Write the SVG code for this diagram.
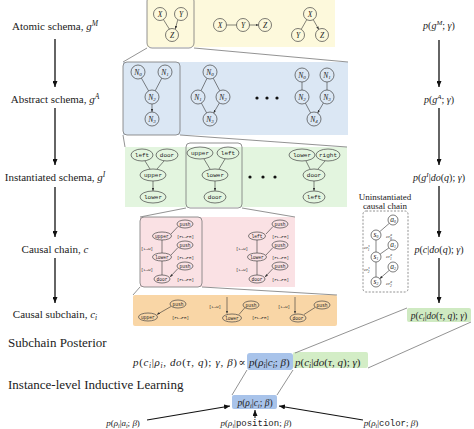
<svg xmlns="http://www.w3.org/2000/svg" width="474" height="429" viewBox="0 0 474 429">
<defs>
<marker id="ah" markerUnits="userSpaceOnUse" markerWidth="6" markerHeight="5" refX="6" refY="2.5" orient="auto"><path d="M0,0 L6,2.5 L0,5 z" fill="#111"/></marker>
<marker id="sa" markerUnits="userSpaceOnUse" markerWidth="3" markerHeight="2.4" refX="3" refY="1.2" orient="auto"><path d="M0,0 L3,1.2 L0,2.4 z" fill="#333"/></marker>
<style>
text{font-family:"Liberation Serif","DejaVu Serif",serif;fill:#222}
.i{font-style:italic}
.lbl{font-size:11px}
.rt{font-size:10px}
.ttl{font-size:13px}
.tt{font-family:"Liberation Mono","DejaVu Sans Mono",monospace}
.cn{fill:none;stroke:#444;stroke-width:0.7}
.nl{font-size:7.5px;font-style:italic;text-anchor:middle}
.el{font-size:6px;text-anchor:middle}
.pl{font-size:4.6px;text-anchor:middle}
.sl{font-size:4px}
.e{stroke:#333;stroke-width:0.6;fill:none;marker-end:url(#sa)}
.ar{stroke:#111;stroke-width:1.3;fill:none;marker-end:url(#ah)}
.zl{stroke:#777;stroke-width:0.8;fill:none}
.cell{fill:none;stroke:#777;stroke-width:0.8}
</style>
</defs>

<!-- panel backgrounds -->
<rect x="147" y="-2" width="188" height="49" fill="#fdf9dc"/>
<rect class="cell" x="147" y="-4" width="47" height="52" rx="5"/>
<rect x="123" y="62" width="225" height="73" fill="#dbe7f4"/>
<rect class="cell" x="123" y="62" width="57" height="73" rx="4"/>
<rect x="125" y="147" width="222" height="60" fill="#e3f5df"/>
<rect class="cell" x="186" y="143" width="56" height="65" rx="4"/>
<rect x="140" y="217" width="155" height="70" fill="#fae1e4"/>
<rect class="cell" x="140" y="217" width="62" height="70" rx="4"/>
<rect x="133" y="295" width="204" height="31" fill="#f9d6a6" rx="2"/>
<rect x="363" y="211" width="45" height="81" rx="3" fill="none" stroke="#777" stroke-width="0.8" stroke-dasharray="2,1.5"/>
<rect x="407" y="308" width="64" height="14" fill="#cfeac2" rx="2"/>
<rect x="247" y="353" width="46" height="17" fill="#a8c3ea" rx="3"/>
<rect x="293" y="352" width="75" height="16" fill="#d3edc6" rx="2"/>
<rect x="232" y="395" width="45" height="14" fill="#a8c3ea" rx="2"/>

<!-- connectors -->
<g id="connectors">
<path class="ar" d="M55,39 V87"/>
<path class="ar" d="M55,108 V165"/>
<path class="ar" d="M55,187 V237"/>
<path class="ar" d="M55,258 V303"/>
<path class="ar" d="M439,40 V87"/>
<path class="ar" d="M439,108 V165"/>
<path class="ar" d="M439,186 V237"/>
<path class="ar" d="M439,258 V303"/>
<path class="zl" d="M147,48 L123,62 M194,48 L348,62"/>
<path class="zl" d="M123,135 L125,147 M180,135 L347,147"/>
<path class="zl" d="M186,208 L140,217 M242,208 L295,217"/>
<path class="zl" d="M140,287 L133,295 M202,287 L337,295"/>
<path class="zl" d="M407,308 L295,353 M471,322 L368,368"/>
<path class="zl" d="M247,370 L232,395 M293,370 L277,395"/>
<path stroke="#111" stroke-width="1.1" fill="none" marker-end="url(#ah)" d="M147,420 L230,406"/>
<path stroke="#111" stroke-width="1.1" fill="none" marker-end="url(#ah)" d="M255,418 V410"/>
<path stroke="#111" stroke-width="1.1" fill="none" marker-end="url(#ah)" d="M363,420 L279,406"/>
<!-- atomic edges -->
<path class="e" d="M163.4,19.5 L169.6,29.5 M177.7,20.1 L175.3,28.9"/>
<path class="e" d="M226.5,25 L236.5,25 M249.5,25 L258.5,25"/>
<path class="e" d="M306.8,19.6 L301.2,29.4 M313.2,19.6 L318.8,29.4"/>
<!-- abstract edges -->
<path class="e" d="M141.4,78.1 L148.6,90.9 M161.8,78.2 L155.2,90.8 M152,104 L152,112"/>
<path class="e" d="M207,78.3 L201,90.7 M213.2,78.2 L219.8,90.8 M201.4,103.1 L206.6,112.9 M219.4,103 L213.6,113"/>
<path class="e" d="M302,82 L302,90 M327,82 L327,90 M305.4,103.1 L310.6,112.9 M323.4,103 L317.6,113"/>
<!-- instantiated edges -->
<path class="e" d="M145,161 L150,169 M164,161 L157,169 M153,181 L153,191"/>
<path class="e" d="M204,159 L210,169 M225,159 L219,169 M215,181 L215,191"/>
<path class="e" d="M306,161 L310,169 M325,161 L318,169 M314,181 L314,191"/>
<!-- causal chain edges -->
<path class="e" d="M178,226.5 L171,234 M162,240 L162,253 M178,247.5 L171,255 M162,261 L162,275 M178,268.5 L170,277"/>
<path class="e" d="M273,226.5 L266,234 M257,240 L257,253 M273,247.5 L266,255 M257,261 L257,275 M273,268.5 L265,277"/>
<!-- subchain edges -->
<path class="e" d="M171,306.5 L157,314.5"/>
<path class="e" d="M245,307.5 L239,314.5 M227,297 L227,313.5"/>
<path class="e" d="M315,307.5 L304,314.5 M295,297 L295,313.5"/>
<!-- uninstantiated edges -->
<path class="e" d="M389.3,223.3 L379.7,231.7 M376,240 L376,252 M388.9,247.9 L380.1,254.1 M376,262 L376,277 M389.3,270.3 L379.7,278.7"/>
</g>

<!-- left labels -->
<g id="left-labels" class="lbl">
<text class="lbl" x="55" y="30" text-anchor="middle">Atomic schema, <tspan class="i">g</tspan><tspan font-size="7.5" dy="-4" class="i">M</tspan></text>
<text class="lbl" x="55" y="103" text-anchor="middle">Abstract schema, <tspan class="i">g</tspan><tspan font-size="7.5" dy="-4" class="i">A</tspan></text>
<text class="lbl" x="55" y="181" text-anchor="middle">Instantiated schema, <tspan class="i">g</tspan><tspan font-size="7.5" dy="-4" class="i">I</tspan></text>
<text class="lbl" x="55" y="253" text-anchor="middle">Causal chain, <tspan class="i">c</tspan></text>
<text class="lbl" x="55" y="318" text-anchor="middle">Causal subchain, <tspan class="i">c</tspan><tspan font-size="7.5" dy="2" class="i">i</tspan></text>
<text class="ttl" x="8" y="347">Subchain Posterior</text>
<text class="ttl" x="8" y="389">Instance-level Inductive Learning</text>
</g>

<!-- right labels -->
<g id="right-labels">
<text class="rt" x="439" y="29" text-anchor="middle"><tspan class="i">p</tspan>(<tspan class="i">g</tspan><tspan font-size="7" dy="-4" class="i">M</tspan><tspan dy="4">;</tspan> <tspan class="i">γ</tspan>)</text>
<text class="rt" x="439" y="103" text-anchor="middle"><tspan class="i">p</tspan>(<tspan class="i">g</tspan><tspan font-size="7" dy="-4" class="i">A</tspan><tspan dy="4">;</tspan> <tspan class="i">γ</tspan>)</text>
<text class="rt" x="439" y="181" text-anchor="middle"><tspan class="i">p</tspan>(<tspan class="i">g</tspan><tspan font-size="7" dy="-4" class="i">I</tspan><tspan dy="4">|</tspan><tspan class="i">do</tspan>(<tspan class="i">q</tspan>); <tspan class="i">γ</tspan>)</text>
<text class="rt" x="439" y="253" text-anchor="middle"><tspan class="i">p</tspan>(<tspan class="i">c</tspan>|<tspan class="i">do</tspan>(<tspan class="i">q</tspan>); <tspan class="i">γ</tspan>)</text>
</g>
<g id="node-subchain-prob">
<text font-size="9.5" x="439" y="318.5" text-anchor="middle"><tspan class="i">p</tspan>(<tspan class="i">c</tspan><tspan font-size="6.5" dy="2" class="i">i</tspan><tspan dy="-2">|</tspan><tspan class="i">do</tspan>(<tspan class="i">τ</tspan>, <tspan class="i">q</tspan>); <tspan class="i">γ</tspan>)</text>
</g>
<g id="uninst-title">
<text font-size="9" x="385" y="200" text-anchor="middle">Uninstantiated</text>
<text font-size="9" x="385" y="209" text-anchor="middle">causal chain</text>
</g>

<!-- formula -->
<g id="formula">
<text font-size="11" x="133" y="366" textLength="104" lengthAdjust="spacing"><tspan class="i">p</tspan>(<tspan class="i">c</tspan><tspan font-size="7.5" dy="2" class="i">i</tspan><tspan dy="-2">|</tspan><tspan class="i">ρ</tspan><tspan font-size="7.5" dy="2" class="i">i</tspan><tspan dy="-2">, </tspan><tspan class="i">do</tspan>(<tspan class="i">τ</tspan>, <tspan class="i">q</tspan>); <tspan class="i">γ</tspan>, <tspan class="i">β</tspan>)</text>
<text font-size="11" x="242" y="366" text-anchor="middle">∝</text>
<text font-size="11" x="249" y="366"><tspan class="i">p</tspan>(<tspan class="i">ρ</tspan><tspan font-size="7.5" dy="2" class="i">i</tspan><tspan dy="-2">|</tspan><tspan class="i">c</tspan><tspan font-size="7.5" dy="2" class="i">i</tspan><tspan dy="-2">; </tspan><tspan class="i">β</tspan>)</text>
<text font-size="11" x="295" y="366"><tspan class="i">p</tspan>(<tspan class="i">c</tspan><tspan font-size="7.5" dy="2" class="i">i</tspan><tspan dy="-2">|</tspan><tspan class="i">do</tspan>(<tspan class="i">τ</tspan>, <tspan class="i">q</tspan>); <tspan class="i">γ</tspan>)</text>
</g>

<!-- instance-level -->
<g id="node-rho-c">
<text font-size="9.5" x="255" y="405.5" text-anchor="middle"><tspan class="i">p</tspan>(<tspan class="i">ρ</tspan><tspan font-size="6.5" dy="2" class="i">i</tspan><tspan dy="-2">|</tspan><tspan class="i">c</tspan><tspan font-size="6.5" dy="2" class="i">i</tspan><tspan dy="-2">; </tspan><tspan class="i">β</tspan>)</text>
</g>
<g id="node-rho-a">
<text font-size="9" x="123" y="426" text-anchor="middle"><tspan class="i">p</tspan>(<tspan class="i">ρ</tspan><tspan font-size="6" dy="2" class="i">i</tspan><tspan dy="-2">|</tspan><tspan class="i">a</tspan><tspan font-size="6" dy="2" class="i">i</tspan><tspan dy="-2">; </tspan><tspan class="i">β</tspan>)</text>
</g>
<g id="node-rho-position">
<text font-size="9" x="256" y="426" text-anchor="middle"><tspan class="i">p</tspan>(<tspan class="i">ρ</tspan><tspan font-size="6" dy="2" class="i">i</tspan><tspan dy="-2">|</tspan><tspan class="tt">position</tspan>; <tspan class="i">β</tspan>)</text>
</g>
<g id="node-rho-color">
<text font-size="9" x="391" y="426" text-anchor="middle"><tspan class="i">p</tspan>(<tspan class="i">ρ</tspan><tspan font-size="6" dy="2" class="i">i</tspan><tspan dy="-2">|</tspan><tspan class="tt">color</tspan>; <tspan class="i">β</tspan>)</text>
</g>

<!-- atomic nodes -->
<g id="atomic-1"><circle class="cn" cx="160" cy="14" r="6.5"/><text class="nl" x="160" y="16.7">X</text><circle class="cn" cx="181" cy="14" r="6.5"/><text class="nl" x="181" y="16.7">Y</text><circle class="cn" cx="172" cy="35" r="6.5"/><text class="nl" x="172" y="37.7">Z</text></g>
<g id="atomic-2"><circle class="cn" cx="220" cy="25" r="6.5"/><text class="nl" x="220" y="27.7">X</text><circle class="cn" cx="243" cy="25" r="6.5"/><text class="nl" x="243" y="27.7">Y</text><circle class="cn" cx="265" cy="25" r="6.5"/><text class="nl" x="265" y="27.7">Z</text></g>
<g id="atomic-3"><circle class="cn" cx="310" cy="14" r="6.5"/><text class="nl" x="310" y="16.7">X</text><circle class="cn" cx="298" cy="35" r="6.5"/><text class="nl" x="298" y="37.7">Y</text><circle class="cn" cx="322" cy="35" r="6.5"/><text class="nl" x="322" y="37.7">Z</text></g>

<!-- abstract nodes -->
<g id="abstract-1">
<circle class="cn" cx="138" cy="72" r="7"/><text class="nl" x="138" y="74.5">N<tspan font-size="5" dy="1.5">0</tspan></text>
<circle class="cn" cx="165" cy="72" r="7"/><text class="nl" x="165" y="74.5">N<tspan font-size="5" dy="1.5">1</tspan></text>
<circle class="cn" cx="152" cy="97" r="7"/><text class="nl" x="152" y="99.5">N<tspan font-size="5" dy="1.5">2</tspan></text>
<circle class="cn" cx="152" cy="119" r="7"/><text class="nl" x="152" y="121.5">N<tspan font-size="5" dy="1.5">3</tspan></text>
</g>
<g id="abstract-2">
<circle class="cn" cx="210" cy="72" r="7"/><text class="nl" x="210" y="74.5">N<tspan font-size="5" dy="1.5">0</tspan></text>
<circle class="cn" cx="198" cy="97" r="7"/><text class="nl" x="198" y="99.5">N<tspan font-size="5" dy="1.5">1</tspan></text>
<circle class="cn" cx="223" cy="97" r="7"/><text class="nl" x="223" y="99.5">N<tspan font-size="5" dy="1.5">2</tspan></text>
<circle class="cn" cx="210" cy="119" r="7"/><text class="nl" x="210" y="121.5">N<tspan font-size="5" dy="1.5">3</tspan></text>
</g>
<g id="abstract-dots"><circle cx="257" cy="98" r="1.6" fill="#111"/><circle cx="267" cy="98" r="1.6" fill="#111"/><circle cx="277" cy="98" r="1.6" fill="#111"/></g>
<g id="abstract-3">
<circle class="cn" cx="302" cy="75" r="7"/><text class="nl" x="302" y="77.5">N<tspan font-size="5" dy="1.5">0</tspan></text>
<circle class="cn" cx="327" cy="75" r="7"/><text class="nl" x="327" y="77.5">N<tspan font-size="5" dy="1.5">1</tspan></text>
<circle class="cn" cx="302" cy="97" r="7"/><text class="nl" x="302" y="99.5">N<tspan font-size="5" dy="1.5">2</tspan></text>
<circle class="cn" cx="327" cy="97" r="7"/><text class="nl" x="327" y="99.5">N<tspan font-size="5" dy="1.5">3</tspan></text>
<circle class="cn" cx="314" cy="119" r="7"/><text class="nl" x="314" y="121.5">N<tspan font-size="5" dy="1.5">4</tspan></text>
</g>

<!-- instantiated nodes -->
<g id="inst-1">
<ellipse class="cn" cx="142" cy="155" rx="11" ry="6"/><text class="tt el" x="142" y="157">left</text>
<ellipse class="cn" cx="167" cy="155" rx="11" ry="6"/><text class="tt el" x="167" y="157">door</text>
<ellipse class="cn" cx="153" cy="175" rx="13" ry="6"/><text class="tt el" x="153" y="177">upper</text>
<ellipse class="cn" cx="153" cy="197" rx="13" ry="6"/><text class="tt el" x="153" y="199">lower</text>
</g>
<g id="inst-2">
<ellipse class="cn" cx="200" cy="153" rx="13" ry="6"/><text class="tt el" x="200" y="155">upper</text>
<ellipse class="cn" cx="228" cy="153" rx="11" ry="6"/><text class="tt el" x="228" y="155">left</text>
<ellipse class="cn" cx="215" cy="175" rx="13" ry="6"/><text class="tt el" x="215" y="177">lower</text>
<ellipse class="cn" cx="215" cy="197" rx="11" ry="6"/><text class="tt el" x="215" y="199">door</text>
</g>
<g id="inst-dots"><circle cx="250" cy="177" r="1.6" fill="#111"/><circle cx="263" cy="177" r="1.6" fill="#111"/><circle cx="275" cy="177" r="1.6" fill="#111"/></g>
<g id="inst-3">
<ellipse class="cn" cx="302" cy="155" rx="13" ry="6"/><text class="tt el" x="302" y="157">lower</text>
<ellipse class="cn" cx="328" cy="155" rx="12" ry="6"/><text class="tt el" x="328" y="157">right</text>
<ellipse class="cn" cx="314" cy="175" rx="11" ry="6"/><text class="tt el" x="314" y="177">door</text>
<ellipse class="cn" cx="314" cy="197" rx="11" ry="6"/><text class="tt el" x="314" y="199">left</text>
</g>

<!-- causal chain nodes -->
<g id="chain-1">
<ellipse class="cn" cx="185" cy="224" rx="8" ry="4"/><text class="tt pl" x="185" y="225.6">push</text>
<ellipse class="cn" cx="162" cy="236" rx="9.5" ry="4"/><text class="tt pl" x="162" y="237.6">upper</text>
<text class="tt sl" x="177" y="237.5">[PL→PH]</text>
<text class="tt sl" x="147" y="250" text-anchor="middle">[L→U]</text>
<ellipse class="cn" cx="185" cy="245" rx="8" ry="4"/><text class="tt pl" x="185" y="246.6">push</text>
<ellipse class="cn" cx="162" cy="257" rx="9.5" ry="4"/><text class="tt pl" x="162" y="258.6">lower</text>
<text class="tt sl" x="177" y="258.5">[PL→PH]</text>
<text class="tt sl" x="147" y="271" text-anchor="middle">[L→U]</text>
<ellipse class="cn" cx="185" cy="266" rx="8" ry="4"/><text class="tt pl" x="185" y="267.6">push</text>
<ellipse class="cn" cx="162" cy="279" rx="8" ry="4"/><text class="tt pl" x="162" y="280.6">door</text>
<text class="tt sl" x="177" y="280.5">[PL→PH]</text>
</g>
<g id="chain-2">
<ellipse class="cn" cx="280" cy="224" rx="8" ry="4"/><text class="tt pl" x="280" y="225.6">push</text>
<ellipse class="cn" cx="257" cy="236" rx="8.5" ry="4"/><text class="tt pl" x="257" y="237.6">left</text>
<text class="tt sl" x="272" y="237.5">[PL→PH]</text>
<text class="tt sl" x="242" y="250" text-anchor="middle">[L→U]</text>
<ellipse class="cn" cx="280" cy="245" rx="8" ry="4"/><text class="tt pl" x="280" y="246.6">push</text>
<ellipse class="cn" cx="257" cy="257" rx="9.5" ry="4"/><text class="tt pl" x="257" y="258.6">lower</text>
<text class="tt sl" x="272" y="258.5">[PL→PH]</text>
<text class="tt sl" x="242" y="271" text-anchor="middle">[L→U]</text>
<ellipse class="cn" cx="280" cy="266" rx="8" ry="4"/><text class="tt pl" x="280" y="267.6">push</text>
<ellipse class="cn" cx="257" cy="279" rx="8" ry="4"/><text class="tt pl" x="257" y="280.6">door</text>
<text class="tt sl" x="272" y="280.5">[PL→PH]</text>
</g>

<!-- subchain nodes -->
<g id="sub-1">
<ellipse class="cn" cx="178" cy="304" rx="8" ry="4"/><text class="tt pl" x="178" y="305.6">push</text>
<ellipse class="cn" cx="148" cy="317" rx="9.5" ry="4"/><text class="tt pl" x="148" y="318.6">upper</text>
<text class="tt sl" x="172" y="319">[PL→PH]</text>
</g>
<g id="sub-2">
<text class="tt sl" x="215" y="308" text-anchor="middle">[L→U]</text>
<ellipse class="cn" cx="251" cy="305" rx="8" ry="4"/><text class="tt pl" x="251" y="306.6">push</text>
<ellipse class="cn" cx="232" cy="318" rx="9.5" ry="4"/><text class="tt pl" x="232" y="319.6">lower</text>
<text class="tt sl" x="252" y="319">[PL→PH]</text>
</g>
<g id="sub-3">
<text class="tt sl" x="284" y="308" text-anchor="middle">[L→U]</text>
<ellipse class="cn" cx="322" cy="305" rx="8" ry="4"/><text class="tt pl" x="322" y="306.6">push</text>
<ellipse class="cn" cx="298" cy="318" rx="8" ry="4"/><text class="tt pl" x="298" y="319.6">door</text>
</g>

<!-- uninstantiated chain nodes -->
<g id="uninst" font-size="5">
<circle class="cn" cx="393" cy="220" r="5"/><text class="nl" font-size="5.5" x="393" y="221.8">a<tspan font-size="3.8" dy="1">0</tspan></text>
<circle class="cn" cx="376" cy="235" r="5"/><text class="nl" font-size="5.5" x="376" y="236.8">s<tspan font-size="3.8" dy="1">0</tspan></text>
<circle class="cn" cx="393" cy="245" r="5"/><text class="nl" font-size="5.5" x="393" y="246.8">a<tspan font-size="3.8" dy="1">1</tspan></text>
<circle class="cn" cx="376" cy="257" r="5"/><text class="nl" font-size="5.5" x="376" y="258.8">s<tspan font-size="3.8" dy="1">1</tspan></text>
<circle class="cn" cx="393" cy="267" r="5"/><text class="nl" font-size="5.5" x="393" y="268.8">a<tspan font-size="3.8" dy="1">2</tspan></text>
<circle class="cn" cx="376" cy="282" r="5"/><text class="nl" font-size="5.5" x="376" y="283.8">s<tspan font-size="3.8" dy="1">2</tspan></text>
<text class="i" font-size="5" x="386" y="238">cr<tspan font-size="3.5" dy="-2">a</tspan><tspan font-size="3.5" dx="-2" dy="3.5">0</tspan></text>
<text class="i" font-size="5" x="364" y="249">cr<tspan font-size="3.5" dy="-2">s</tspan><tspan font-size="3.5" dx="-1.8" dy="3.5">1</tspan></text>
<text class="i" font-size="5" x="386" y="258">cr<tspan font-size="3.5" dy="-2">a</tspan><tspan font-size="3.5" dx="-2" dy="3.5">1</tspan></text>
<text class="i" font-size="5" x="364" y="271">cr<tspan font-size="3.5" dy="-2">s</tspan><tspan font-size="3.5" dx="-1.8" dy="3.5">2</tspan></text>
<text class="i" font-size="5" x="386" y="285">cr<tspan font-size="3.5" dy="-2">a</tspan><tspan font-size="3.5" dx="-2" dy="3.5">2</tspan></text>
</g>
</svg>
